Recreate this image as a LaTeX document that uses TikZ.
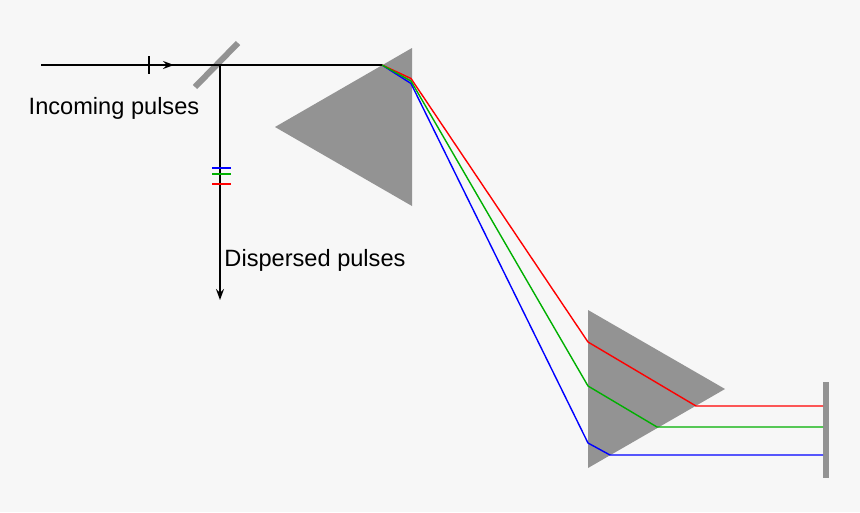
\documentclass[tikz,border=0pt]{standalone}
\usepackage{fontspec}
\setmainfont{Liberation Sans}
\usetikzlibrary{arrows.meta}
\definecolor{backcol}{HTML}{F7F7F7}
\definecolor{glasscol}{HTML}{939393}
\definecolor{bluecol}{HTML}{0000FF}
\definecolor{greencol}{HTML}{00B000}
\definecolor{redcol}{HTML}{FF0000}

\begin{document}
\begin{tikzpicture}[x=1pt,y=-1pt,>={Stealth[length=11pt,width=8pt,inset=4pt]}]

  \tikzstyle{glass}=[fill=glasscol,draw=none]
  \tikzstyle{mirror}=[draw=glasscol,line width=6pt]
  \tikzstyle{beam}=[draw=black,line width=1.4pt]
  \tikzstyle{ray}=[line width=1.4pt,line join=round]
  \tikzstyle{tick}=[line width=2.8pt]
  \tikzstyle{label}=[inner sep=0pt,font=\fontsize{23.6}{28}\selectfont]

  \useasboundingbox (0,0) rectangle (860,512);
  \fill [backcol] (0,0) rectangle (860,512);

  \coordinate (in)      at (41,65);
  \coordinate (instart) at (115,65);
  \coordinate (inhead)  at (174,65);
  \coordinate (split)   at (220,65);
  \coordinate (out)     at (220,300);
  \coordinate (enter)   at (382,65);

  %% prisms and mirrors
  \fill [glass] (412,48) -- (412,206) -- (275,127) -- cycle;
  \fill [glass] (588,310) -- (588,468) -- (725,389) -- cycle;
  \coordinate (sa) at (195,87);
  \coordinate (sb) at (238,43);
  \coordinate (ma) at (826,382);
  \coordinate (mb) at (826,478);
  \draw [mirror] (sa) -- (sb);
  \draw [mirror] (ma) -- (mb);

  %% rays
  \coordinate (ra) at (411,78.5);
  \coordinate (rb) at (588,342);
  \coordinate (rc) at (696,406);
  \coordinate (rd) at (823,406);
  \coordinate (ga) at (411,81);
  \coordinate (gb) at (588,386);
  \coordinate (gc) at (657,427);
  \coordinate (gd) at (823,427);
  \coordinate (ba) at (411,83.5);
  \coordinate (bb) at (588,443);
  \coordinate (bc) at (610,455);
  \coordinate (bd) at (823,455);

  \draw [ray,bluecol]  (enter) -- (ba) -- (bb) -- (bc) -- (bd);
  \draw [ray,redcol]   (enter) -- (ra) -- (rb) -- (rc) -- (rd);
  \draw [ray,greencol] (enter) -- (ga) -- (gb) -- (gc) -- (gd);

  %% main beam
  \draw [beam] (in) -- (enter);
  \draw [beam,->] (instart) -- (inhead);
  \draw [beam,->] (split) -- (out);

  %% pulse marks
  \coordinate (ta) at (149,56);
  \coordinate (tb) at (149,74);
  \draw [tick,black,line width=2.2pt] (ta) -- (tb);
  \coordinate (ua) at (212,168);
  \coordinate (ub) at (231,168);
  \coordinate (va) at (212,174);
  \coordinate (vb) at (231,174);
  \coordinate (wa) at (212,184);
  \coordinate (wb) at (231,184);
  \draw [tick,bluecol]  (ua) -- (ub);
  \draw [tick,greencol] (va) -- (vb);
  \draw [tick,redcol]   (wa) -- (wb);

  \node (inlabel)  at (114,108.5) [label] {Incoming pulses};
  \node (outlabel) at (315,260.5) [label] {Dispersed pulses};

\end{tikzpicture}
\end{document}
